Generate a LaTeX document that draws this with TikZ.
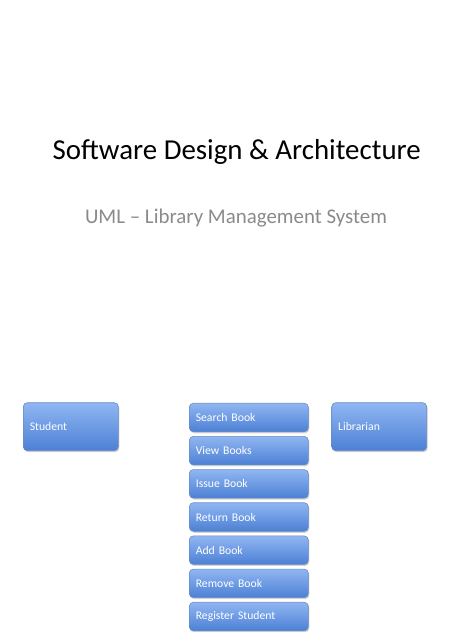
\documentclass[tikz,border=0pt]{standalone}
\usepackage{fontspec}
\setmainfont{Carlito}
\usepackage{tikz}
\usetikzlibrary{shadows}
\definecolor{boxtop}{HTML}{90B6F2}
\definecolor{boxbot}{HTML}{4C80D5}
\definecolor{boxline}{HTML}{6A8CC4}
\definecolor{subgrey}{HTML}{8A8A8A}
\tikzset{
  usecase/.style={rectangle,rounded corners=4pt,draw=boxline,line width=.6pt,
    top color=boxtop,bottom color=boxbot,text=white,
    drop shadow={shadow xshift=1pt,shadow yshift=-1.5pt,opacity=.35},
    inner xsep=6.5pt,align=left,font=\fontsize{11.7}{13}\selectfont},
  actor/.style={usecase,minimum height=48pt,text width=95pt-13pt},
  action/.style={usecase,minimum height=28.5pt,text width=119pt-13pt}
}
\begin{document}
\begin{tikzpicture}[x=1pt,y=-1pt]
        % page
        \useasboundingbox (0,0) rectangle (474,632);
        % titles
        \node (title) at (236.7,152) {\fontsize{28.9}{32}\selectfont Software Design \& Architecture};
        \node[text=subgrey] (subtitle) at (236,218.5) {\fontsize{20.9}{24}\selectfont UML -- Library Management System};
        % actors
        \node[actor] (student) at (70.8,426.7) {Student};
        \node[actor] (librarian) at (379.2,426.7) {Librarian};
        % use cases
        \foreach \t [count=\i] in {Search Book,View Books,Issue Book,Return Book,Add Book,Remove Book,Register Student}
          \node[action] (uc\i) at (248.8,417.5+33.17*\i-33.17) {\t};
\end{tikzpicture}
\end{document}
